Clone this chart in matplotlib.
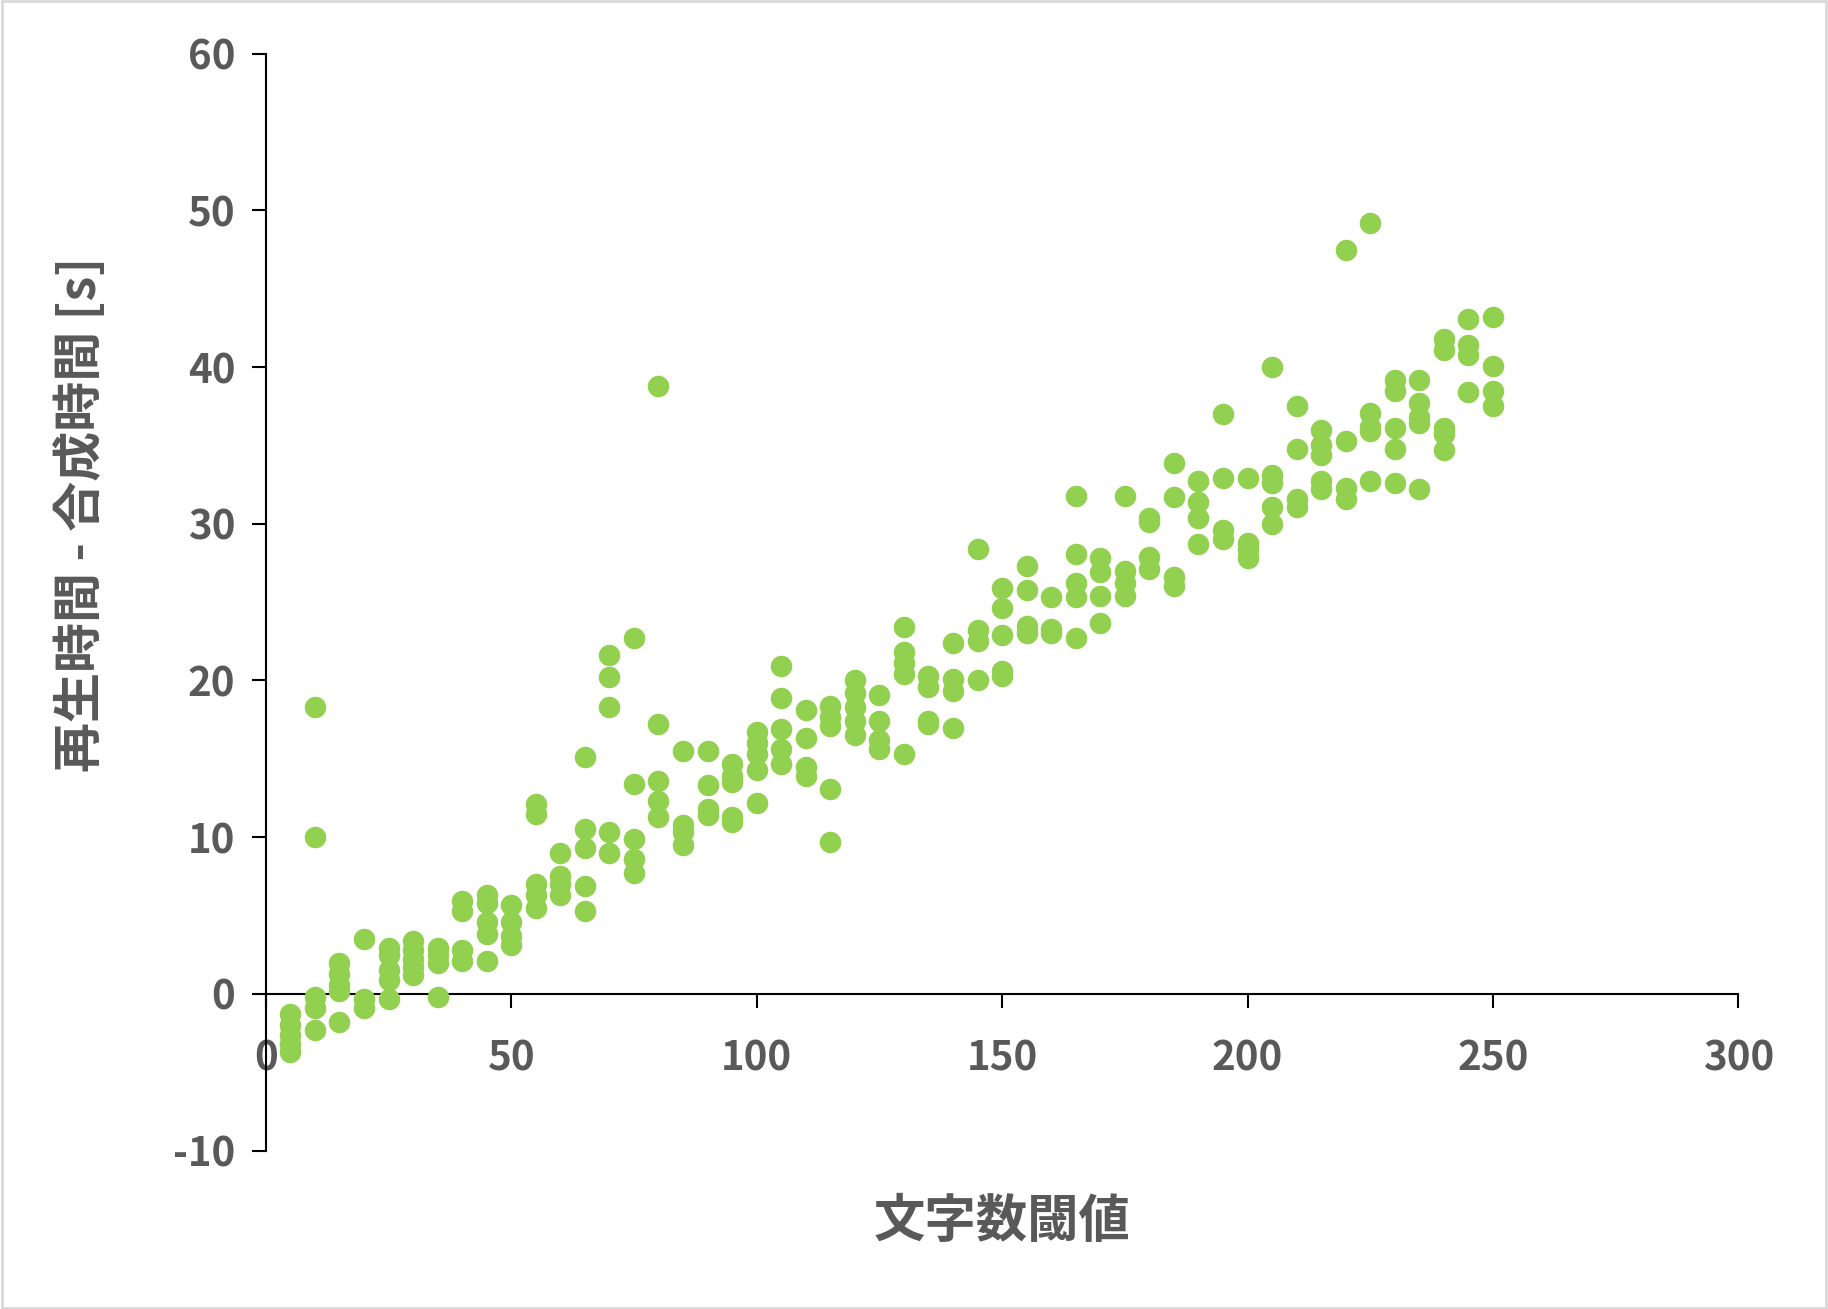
import matplotlib
matplotlib.use("Agg")
import matplotlib.pyplot as plt
from matplotlib.patches import Rectangle

plt.rcParams['font.family'] = ['Noto Sans CJK JP', 'DejaVu Sans']
plt.rcParams['axes.unicode_minus'] = False

groups = {
5: [-1.3, -2, -2.6, -3.2, -3.7],
10: [18.3, 10, -0.2, -0.9, -2.3],
15: [2, 1.3, 0.6, 0.2, -1.8],
20: [3.5, -0.3, -0.9],
25: [2.9, 2.5, 1.5, 0.9, -0.3],
30: [3.4, 2.8, 2.2, 1.7, 1.2],
35: [2.9, 2.5, 2, -0.2],
40: [5.9, 5.3, 2.8, 2.1],
45: [6.3, 5.8, 4.6, 3.8, 2.1],
50: [5.7, 4.6, 3.7, 3.1],
55: [12.1, 11.5, 7, 6.3, 5.5],
60: [9, 7.5, 7, 6.3],
65: [15.1, 10.5, 9.3, 6.9, 5.3],
70: [21.6, 20.2, 18.3, 10.3, 9],
75: [22.7, 13.4, 9.9, 8.6, 7.7],
80: [38.8, 17.2, 13.6, 12.3, 11.3],
85: [15.5, 10.8, 10.3, 9.5],
90: [15.5, 13.3, 11.8, 11.4],
95: [14.7, 13.9, 13.5, 11.3, 11],
100: [16.7, 16, 15.3, 14.3, 12.2],
105: [20.9, 18.9, 16.9, 15.6, 14.7],
110: [18.1, 16.3, 14.5, 13.9],
115: [18.4, 17.7, 17.1, 13.1, 9.7],
120: [20, 19.2, 18.3, 17.4, 16.5],
125: [19.1, 17.4, 16.2, 15.6],
130: [23.4, 21.8, 21.1, 20.4, 15.3],
135: [20.3, 19.6, 17.4, 17.2],
140: [22.4, 20.1, 19.3, 17],
145: [28.4, 23.2, 22.5, 20],
150: [25.9, 24.6, 22.9, 20.6, 20.3],
155: [27.3, 25.8, 23.5, 23],
160: [25.3, 23.3, 23],
165: [31.8, 28.1, 26.2, 25.3, 22.7],
170: [27.8, 26.9, 25.4, 23.7],
175: [31.8, 27, 26.2, 25.4],
180: [30.4, 30.1, 27.9, 27.1],
185: [33.9, 31.7, 26.6, 26],
190: [32.7, 31.4, 30.4, 28.7],
195: [37, 32.9, 29.6, 29],
200: [32.9, 28.8, 28.3, 27.8],
205: [40, 33.1, 32.6, 31.1, 30],
210: [37.5, 34.8, 31.6, 31.1],
215: [36, 35, 34.4, 32.7, 32.2],
220: [47.5, 35.3, 32.3, 31.6],
225: [49.2, 37.1, 36.2, 35.9, 32.7],
230: [39.2, 38.5, 36.1, 34.8, 32.6],
235: [39.2, 37.7, 36.8, 36.4, 32.2],
240: [41.8, 41.1, 36.1, 35.7, 34.7],
245: [43.1, 41.4, 40.8, 38.4],
250: [43.2, 40.1, 38.5, 37.5],
}
x_vals = [k for k, v in groups.items() for _ in v]
y_vals = [y for v in groups.values() for y in v]

xlabel = "文字数閾値"
ylabel = "再生時間 - 合成時間 [s]"
grey = "#595959"

fig = plt.figure(figsize=(18.28, 13.09), dpi=100)
fig.patches.append(Rectangle((0.001, 0.001), 0.998, 0.998, transform=fig.transFigure,
                             fill=False, edgecolor="#D9D9D9", linewidth=2))
ax = fig.add_axes([0.1454, 0.121, 0.8056, 0.838])
ax.scatter(x_vals, y_vals, s=240, color="#92D050", zorder=3, linewidths=0)
ax.set_xlim(0, 300)
ax.set_ylim(-10, 60)
ax.set_xticks(range(0, 301, 50))
ax.set_yticks(range(-10, 61, 10))
for s in ["top", "right"]:
    ax.spines[s].set_visible(False)
ax.spines["bottom"].set_position(("data", 0))
for s in ["left", "bottom"]:
    ax.spines[s].set_color("black")
    ax.spines[s].set_linewidth(1.5)
ax.tick_params(axis="both", direction="out", length=10, width=1.5, color="black",
               labelsize=29, labelcolor=grey)
ax.tick_params(axis="x", pad=22)
ax.tick_params(axis="y", pad=12)
for lab in ax.get_xticklabels() + ax.get_yticklabels():
    lab.set_fontweight("bold")
ax.set_xlabel(xlabel, fontsize=37, color=grey, fontweight="bold")
ax.xaxis.set_label_coords(0.5, -0.04)
ax.set_ylabel(ylabel, fontsize=36, color=grey, fontweight="bold")
ax.yaxis.set_label_coords(-0.108, 0.58)
fig.savefig("out.png", dpi=100)
